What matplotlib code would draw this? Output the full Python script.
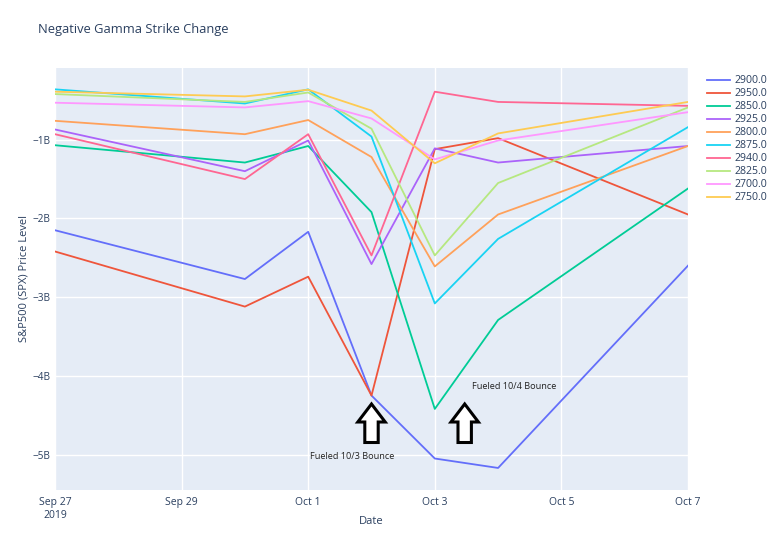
import matplotlib
matplotlib.use("Agg")
import matplotlib.pyplot as plt
import matplotlib.dates as mdates
from matplotlib.patches import Polygon
from matplotlib.ticker import FixedLocator, FixedFormatter
import numpy as np
import datetime as dt

plt.rcParams['font.family'] = ['Open Sans', 'DejaVu Sans']

dates = ["2019-09-27", "2019-09-30", "2019-10-01", "2019-10-02", "2019-10-03", "2019-10-04", "2019-10-07"]

strikes = ["2900.0", "2950.0", "2850.0", "2925.0", "2800.0", "2875.0", "2940.0", "2825.0", "2700.0", "2750.0"]

# values in billions
s2900 = [-2.15, -2.77, -2.17, -4.25, -5.05, -5.17, -2.60]
s2950 = [-2.42, -3.12, -2.74, -4.25, -1.12, -0.98, -1.95]
s2850 = [-1.07, -1.29, -1.08, -1.92, -4.42, -3.29, -1.62]
s2925 = [-0.87, -1.40, -1.01, -2.58, -1.11, -1.29, -1.08]
s2800 = [-0.76, -0.93, -0.75, -1.22, -2.61, -1.95, -1.08]
s2875 = [-0.36, -0.54, -0.36, -0.96, -3.08, -2.26, -0.84]
s2940 = [-0.93, -1.50, -0.93, -2.47, -0.39, -0.52, -0.57]
s2825 = [-0.42, -0.52, -0.40, -0.86, -2.47, -1.55, -0.59]
s2700 = [-0.53, -0.59, -0.51, -0.73, -1.25, -1.01, -0.65]
s2750 = [-0.39, -0.45, -0.365, -0.63, -1.30, -0.92, -0.52]

series = [s2900, s2950, s2850, s2925, s2800, s2875, s2940, s2825, s2700, s2750]
colors = ["#636EFA", "#EF553B", "#00CC96", "#AB63FA", "#FFA15A", "#19D3F3", "#FF6692", "#B6E880", "#FF97FF", "#FECB52"]

xtick_dates = ["2019-09-27", "2019-09-29", "2019-10-01", "2019-10-03", "2019-10-05", "2019-10-07"]
xtick_labels = ["Sep 27\n2019", "Sep 29", "Oct 1", "Oct 3", "Oct 5", "Oct 7"]
ytick_vals = [-1e9, -2e9, -3e9, -4e9, -5e9]
ytick_labels = ["\u22121B", "\u22122B", "\u22123B", "\u22124B", "\u22125B"]

annotations = [("Fueled 10/3 Bounce", "2019-10-01 16:30"), ("Fueled 10/4 Bounce", "2019-10-04 06:00")]
arrow_dates = ["2019-10-02 00:00", "2019-10-03 11:20"]

TXT = "#2a3f5f"
fig = plt.figure(figsize=(7.68, 5.45), dpi=100)
W, H = 768, 545
L, R, T, B = 55, 688, 68, 490
ax = fig.add_axes([L / W, 1 - B / H, (R - L) / W, (B - T) / H])
ax.set_facecolor("#E5ECF6")
for sp in ax.spines.values():
    sp.set_visible(False)

x = [dt.datetime.fromisoformat(d) for d in dates]
for name, vals, c in zip(strikes, series, colors):
    ax.plot(x, np.array(vals) * 1e9, color=c, lw=1.3, label=name, zorder=3)

ax.set_xlim(dt.datetime(2019, 9, 27), dt.datetime(2019, 10, 7))
ax.set_ylim(-5.45e9, -0.089e9)
xt = [mdates.date2num(dt.datetime.fromisoformat(d)) for d in xtick_dates]
ax.xaxis.set_major_locator(FixedLocator(xt))
ax.xaxis.set_major_formatter(FixedFormatter(xtick_labels))
ax.yaxis.set_major_locator(FixedLocator(ytick_vals))
ax.yaxis.set_major_formatter(FixedFormatter(ytick_labels))
ax.grid(True, color="white", lw=1.0, zorder=0)
ax.set_axisbelow(True)
ax.tick_params(axis="x", length=0, labelsize=7.5, labelcolor=TXT, pad=5)
ax.tick_params(axis="y", length=0, labelsize=7.2, labelcolor=TXT, pad=3)
ax.set_xlabel("Date", fontsize=8, color=TXT)
ax.set_ylabel("S&P500 (SPX) Price Level", fontsize=8, color=TXT)
ax.xaxis.set_label_coords(0.5, (B - 521) / (B - T), transform=ax.transAxes)
ax.yaxis.set_label_coords((24 - L) / (R - L), 0.5, transform=ax.transAxes)
ax.xaxis.label.set_va("center")
ax.yaxis.label.set_va("center")

fig.text(38 / W, 1 - 30 / H, "Negative Gamma Strike Change", fontsize=9.3, color=TXT, va="center", ha="left")

leg = ax.legend(loc="upper left", bbox_to_anchor=(1.018, 1.0), frameon=False, fontsize=7.6,
                handlelength=2.2, handletextpad=0.4, labelspacing=0.19, borderaxespad=0.3)
for t in leg.get_texts():
    t.set_color(TXT)

# annotations
ann_y = [-5.03e9, -4.14e9]
for (txt, d), yv in zip(annotations, ann_y):
    ax.text(mdates.date2num(dt.datetime.fromisoformat(d)), yv, txt, fontsize=6.6, color="#222222",
            ha="center", va="center", zorder=5)

# block arrows in pixel geometry relative to axes
def px_to_axes(px, py):
    return ((px - L) / (R - L), (B - py) / (B - T))

x0 = mdates.date2num(dt.datetime(2019, 9, 27))
x1 = mdates.date2num(dt.datetime(2019, 10, 7))
for d in arrow_dates:
    xn = mdates.date2num(dt.datetime.fromisoformat(d))
    cx = L + (xn - x0) / (x1 - x0) * (R - L)
    pts = [(cx, 404), (cx + 13.7, 422), (cx + 6.7, 422), (cx + 6.7, 442.5),
           (cx - 6.7, 442.5), (cx - 6.7, 422), (cx - 13.7, 422)]
    pts = [px_to_axes(px, py) for px, py in pts]
    ax.add_patch(Polygon(pts, closed=True, transform=ax.transAxes, fc="white", ec="black",
                         lw=2.2, joinstyle="miter", zorder=6))

fig.savefig("out.png", dpi=100)
